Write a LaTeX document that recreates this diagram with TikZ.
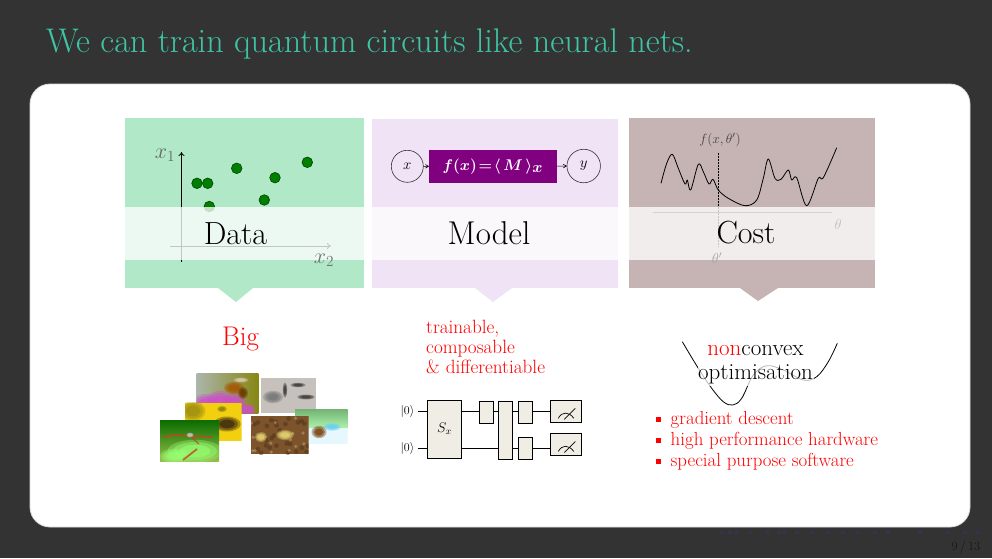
\RequirePackage{fix-cm}
\documentclass[tikz,border=0pt]{standalone}
\usepackage{amsmath,bm}
\usetikzlibrary{arrows.meta,calc}
\definecolor{slidebg}{HTML}{333333}
\definecolor{titlecol}{HTML}{3EC4A4}
\definecolor{pgreen}{HTML}{B0E8C8}
\definecolor{ppurple}{HTML}{EFE3F5}
\definecolor{pbrown}{HTML}{C6B4B4}
\definecolor{gatefill}{HTML}{F0EDE4}
\definecolor{navcol}{HTML}{34344E}
\definecolor{dotgreen}{HTML}{007F00}
\definecolor{boxpurple}{HTML}{800080}
\newcommand{\pxfont}[2]{\fontsize{#1}{#2}\selectfont}
% soft, blurred looking blob for the small photographs
\newcommand{\softblob}[5]{%
  \fill[#1,opacity=0.35] (#2,#3) ellipse ({#4*1.25} and {#5*1.25});
  \fill[#1,opacity=0.45] (#2,#3) ellipse ({#4} and {#5});
  \fill[#1,opacity=0.6] (#2,#3) ellipse ({#4*0.7} and {#5*0.7});
}
\tikzset{
  panel/.style={draw=none},
  band/.style={fill=white,fill opacity=0.77,draw=none},
  panellabel/.style={font=\pxfont{32}{38},text=black,inner sep=0pt},
  redtext/.style={text=red,inner sep=0pt,anchor=base west,font=\pxfont{19.2}{22}},
  bullettext/.style={text=red,inner sep=0pt,anchor=base west,font=\pxfont{18.9}{22}},
  redbullet/.style={fill=red,draw=none},
  datadot/.style={circle,fill=dotgreen,draw=black!70!green,line width=0.7pt,minimum size=10.5pt,inner sep=0pt},
  modelcircle/.style={circle,draw=black!80,line width=0.6pt,inner sep=0pt},
  arrowline/.style={-{To[length=3.5pt,width=4pt]},line width=0.6pt,black},
  gate/.style={fill=gatefill,draw=black,line width=0.7pt},
  wire/.style={draw=black,line width=0.7pt},
  axisline/.style={line width=0.8pt,black},
  navmark/.style={fill=navcol,draw=none}
}
\begin{document}
\begin{tikzpicture}[x=1pt,y=-1pt]
\useasboundingbox (0,0) rectangle (992,558);
\fill[slidebg] (0,0) rectangle (992,558);
% navigation symbols
\foreach \xx in {722,730,737,750,767,779,785,797,812,828,843,858,875,888,920,948,965,978}
  \fill[navmark] (\xx-2,530.5) rectangle (\xx+2,534);
\node[text=black!90,inner sep=0pt,font=\pxfont{12.5}{14}] (pagenum) at (966,547) {9\,/\,13};
% main card
\fill[white,draw=black!15,line width=0.8pt,rounded corners=20pt] (30,84) rectangle (970,527);
\node[anchor=base west,text=titlecol,inner sep=0pt,font=\pxfont{34.2}{40}] (title) at (46,52) {We can train quantum circuits like neural nets.};

% ---- Data panel
\fill[pgreen,panel] (125,118) rectangle (364,288);
\fill[pgreen] (218,288) -- (253,288) -- (236,302) -- cycle;
\coordinate (dataYa) at (181.5,262);
\coordinate (dataYb) at (181.5,152);
\coordinate (dataXa) at (170,246);
\coordinate (dataXb) at (331,246);
\draw[axisline,-{To[length=4pt,width=6pt]}] (dataYa) -- (dataYb);
\draw[axisline,-{To[length=4pt,width=6pt]}] (dataXa) -- (dataXb);
\node[datadot] (d1) at (197,183.3) {};
\node[datadot] (d2) at (207.7,183.3) {};
\node[datadot] (d3) at (236.7,168.3) {};
\node[datadot] (d4) at (275,177.7) {};
\node[datadot] (d5) at (307.3,162.3) {};
\node[datadot] (d6) at (264.3,200) {};
\node[datadot] (d7) at (209.3,206.5) {};
\fill[band] (125,207) rectangle (364,260);
\node[inner sep=0pt,text=black!60,font=\pxfont{22}{26}] (x1lab) at (165,155.5) {$x_1$};
\node[inner sep=0pt,text=black!55,font=\pxfont{22}{26}] (x2lab) at (324,260.5) {$x_2$};
\node[panellabel] (datalab) at (235.5,234) {Data};

% ---- Model panel
\fill[ppurple] (372,119) rectangle (618,288);
\fill[ppurple] (475,288) -- (512,288) -- (493,302) -- cycle;
\fill[band] (372,207) rectangle (618,260);
\node[modelcircle,minimum size=32pt] (xnode) at (407.3,166.3) {\pxfont{15}{18}$x$};
\node[modelcircle,minimum size=33.5pt] (ynode) at (583.7,166) {\pxfont{15}{18}$y$};
\node[inner sep=0pt,minimum width=127.7pt,minimum height=32.7pt,text=white,fill=boxpurple,font=\pxfont{15.5}{18}] (fbox) at (492.85,166.35) {$\bm{f(x)\!=\!\langle\,M\,\rangle}_{\textstyle\bm{x}}$};
\draw[arrowline] (xnode) -- (fbox);
\draw[arrowline] (fbox) -- (ynode);
\node[panellabel,font=\pxfont{33}{38}] (modellab) at (489,233) {Model};

% ---- Cost panel
\fill[pbrown] (629,118) rectangle (875,288);
\fill[pbrown] (740,288) -- (778,288) -- (758,301) -- cycle;
\coordinate (costVa) at (718.3,152.7);
\coordinate (costVb) at (718.3,247);
\coordinate (costHa) at (653.3,212.3);
\coordinate (costHb) at (831.7,212.3);
\draw[line width=0.5pt,black,densely dotted] (costVa) -- (costVb);
\draw[line width=0.6pt,black!75] (costHa) -- (costHb);
\draw[line width=0.8pt,black,line join=round] plot[smooth,tension=0.55] coordinates {
 (661,183.3) (666.7,163.3) (672.3,154.3) (678.3,168.3) (685,184) (687.3,180) (690.7,190)
 (698.3,164.3) (703.3,171.7) (709,184) (713,179.3) (718.3,190) (728.3,198.3) (745,205.7)
 (756.7,200) (763.3,178.3) (768.3,159) (775,178.3) (781,179.3) (788.3,170) (791.7,180)
 (796.7,177.7) (806.7,205.7) (818.3,178.3) (823.3,177.7) (836.7,147.7)};
\fill[band] (629,207) rectangle (875,260);
\node[inner sep=0pt,text=black!75,font=\pxfont{13.5}{16}] (costf) at (720,140) {$f(x,\theta')$};
\node[inner sep=0pt,text=black!25,font=\pxfont{14.5}{16}] (costth) at (838,224) {$\theta$};
\node[inner sep=0pt,text=black!35,font=\pxfont{14.5}{16}] (costthp) at (717,258.5) {$\theta'$};
\node[panellabel] (costlab) at (746,233) {Cost};

% ---- Big + photos
\node[inner sep=0pt,text=red,font=\pxfont{27}{32}] (biglab) at (240.5,339.5) {Big};
% photo A
\begin{scope}
\clip (196.7,373.3) rectangle (258.3,413.3);
\shade[left color=black!30!green!10!gray!60!white,right color=olive!65!black!70!white] (196.7,373.3) rectangle (258.3,413.3);
\softblob{violet!55!magenta!70!white}{206}{404}{11}{8}
\softblob{violet!55!magenta!70!white}{220}{402}{11}{9}
\softblob{violet!55!magenta!70!white}{234}{403}{10}{8}
\softblob{violet!55!magenta!70!white}{247}{410}{7}{5}
\softblob{orange!65!black}{234}{388}{8}{5}
\softblob{black!60!orange}{243}{393}{4}{5}
\softblob{white!60!brown}{241}{380}{6}{2}
\end{scope}
% photo B
\begin{scope}
\clip (260.7,377.7) rectangle (316,413.3);
\fill[black!22!white!92!brown] (260.7,377.7) rectangle (316,413.3);
\softblob{black!55}{273}{397}{8}{5}
\softblob{black!80}{285}{390}{1.8}{6}
\softblob{black!80}{298}{385}{6}{1.8}
\softblob{black!80}{306}{397}{7}{2}
\end{scope}
% photo F
\begin{scope}
\clip (295,409) rectangle (347.7,444.3);
\shade[top color=green!45!black!55!white,bottom color=green!30!white!90!gray] (295,409) rectangle (347.7,428);
\fill[cyan!10!white] (295,428) rectangle (347.7,444.3);
\softblob{cyan!60!white}{332}{427}{7}{3}
\softblob{orange!45!black}{319}{432}{6}{5}
\end{scope}
% photo E
\begin{scope}
\clip (251,416) rectangle (308.7,454.3);
\fill[brown!65!black] (251,416) rectangle (308.7,454.3);
\pgfmathsetseed{7}
\foreach \ii in {1,...,28}{
  \pgfmathsetmacro{\px}{251+rnd*58}
  \pgfmathsetmacro{\py}{416+rnd*38}
  \fill[black!60!brown,opacity=0.5] (\px,\py) circle (2.4pt);
}
\foreach \ii in {1,...,14}{
  \pgfmathsetmacro{\px}{251+rnd*58}
  \pgfmathsetmacro{\py}{416+rnd*38}
  \fill[brown!40!white,opacity=0.35] (\px,\py) circle (1.8pt);
}
\softblob{brown!45!yellow!60!white}{261}{437}{5}{4}
\softblob{brown!45!yellow!60!white}{285}{435}{7}{4}
\end{scope}
% photo C
\begin{scope}
\clip (185,402.7) rectangle (241.7,441);
\fill[yellow!75!orange!95!black] (185,402.7) rectangle (241.7,441);
\softblob{olive!75!brown}{193}{411}{10}{8}
\softblob{olive!90!black}{222}{409}{4}{2.5}
\softblob{black!75!brown}{227}{424}{11}{6}
\end{scope}
% photo D
\begin{scope}
\clip (160,420.7) rectangle (219,461.7);
\shade[top color=green!40!black!95!yellow,bottom color=green!35!yellow!65!black!70!white] (160,420.7) rectangle (219,461.7);
\softblob{lime!35!green!55!white}{195}{451}{22}{9}
\softblob{lime!35!green!55!white}{175}{456}{12}{6}
\draw[red!40!brown!90!black,line width=1.8pt,opacity=0.8] (163,437) -- (176,435) -- (190,436) -- (212,437);
\draw[red!40!brown!90!black,line width=1.8pt,opacity=0.8] (183,460) -- (197,449);
\draw[red!40!brown!90!black,line width=1.2pt,opacity=0.8] (190,436) -- (199,444);
\softblob{black!20}{190}{435}{3}{2}
\end{scope}

% ---- Model text and circuit
\node[redtext] (mtxt1) at (426,333) {trainable,};
\node[redtext] (mtxt2) at (426,353) {composable};
\node[redtext] (mtxt3) at (426,373.5) {\& differentiable};
\node[inner sep=0pt,font=\pxfont{12}{14}] (ket1) at (407.5,411) {$|0\rangle$};
\node[inner sep=0pt,font=\pxfont{12}{14}] (ket2) at (407.5,448) {$|0\rangle$};
\coordinate (w1a) at (418,411);
\coordinate (w2a) at (418,448);
\coordinate (w1b) at (550.3,411);
\coordinate (w2b) at (550.3,448);
\draw[wire] (w1a) -- (w1b);
\draw[wire] (w2a) -- (w2b);
\node[gate,minimum width=34.4pt,minimum height=57.7pt,inner sep=0pt,font=\pxfont{14}{16}] (Sx) at (444.5,429.15) {$S_x$};
\node[gate,minimum width=14.4pt,minimum height=22.3pt,inner sep=0pt] (g1) at (486.5,412.15) {};
\node[gate,minimum width=14.4pt,minimum height=58pt,inner sep=0pt] (g2) at (505.5,430) {};
\node[gate,minimum width=14.4pt,minimum height=22.3pt,inner sep=0pt] (g3) at (525.5,412.15) {};
\node[gate,minimum width=14.4pt,minimum height=21.7pt,inner sep=0pt] (g4) at (525.5,448.15) {};
\node[gate,minimum width=31pt,minimum height=22pt,inner sep=0pt] (m1) at (565.8,411.3) {};
\node[gate,minimum width=31pt,minimum height=22.4pt,inner sep=0pt] (m2) at (565.8,444.5) {};
\foreach \mm in {m1,m2}{
  \draw[black,line width=0.7pt] ($(\mm.center)+(-7.5,7)$) .. controls ($(\mm.center)+(-4,0)$) and ($(\mm.center)+(3,0)$) .. ($(\mm.center)+(8,7)$);
  \draw[black,line width=0.7pt] ($(\mm.center)+(-1.5,8)$) -- ($(\mm.center)+(9.5,-3)$);
}

% ---- Cost text
\draw[line width=0.8pt,black] plot[smooth,tension=0.6] coordinates {
 (682.3,341.7) (698.3,368.3) (711.7,388.3) (723.3,401.7) (732.7,405) (741.7,398.3)
 (753.3,375) (766.7,365.7) (783.3,370) (803.3,380) (816.7,376.7) (828.3,361.7) (837.3,343.3)};
\fill[white,fill opacity=0.72] (698,345) rectangle (814,386);
\node[inner sep=0pt,font=\pxfont{23}{23.5},align=center] (nonconv) at (755.5,364.5) {\textcolor{red}{non}convex\\optimisation};
\fill[redbullet] (655.7,417) rectangle (660.7,422);
\fill[redbullet] (655.7,438) rectangle (660.7,443);
\fill[redbullet] (655.7,459) rectangle (660.7,464);
\node[bullettext] (b1) at (670.5,424) {gradient descent};
\node[bullettext] (b2) at (670.5,445) {high performance hardware};
\node[bullettext] (b3) at (670.5,466) {special purpose software};
\end{tikzpicture}
\end{document}
